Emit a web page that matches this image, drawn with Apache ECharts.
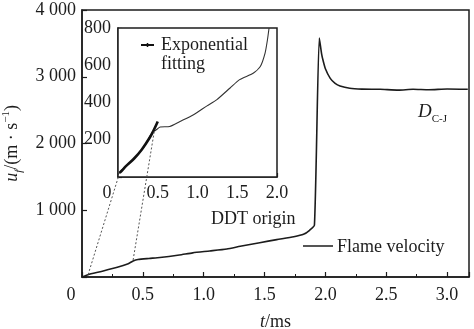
<!DOCTYPE html>
<html>
<head>
<meta charset="utf-8">
<script src="https://cdn.jsdelivr.net/npm/echarts@6/dist/echarts.min.js"></script>
<style>
  html, body { margin: 0; padding: 0; background: #fff; }
  #chart { width: 474px; height: 329px; }
</style>
</head>
<body>
<div id="chart"></div>
<script>
// Flame velocity during deflagration-to-detonation transition (t in ms, u in m/s)
const flameT = [0, 0.05, 0.15, 0.29, 0.38, 0.42, 0.46, 0.55, 0.64, 0.8, 0.91, 1.05, 1.19, 1.3, 1.46, 1.6, 1.74, 1.82, 1.87, 1.91,
                1.95, 1.97, 1.98, 2.0, 2.04, 2.08, 2.12, 2.2, 2.3, 2.45, 2.6, 2.72, 2.85, 3.0, 3.17];
const flameU = [0, 35, 80, 145, 200, 240, 262, 278, 292, 330, 362, 390, 420, 460, 514, 560, 604, 640, 700, 780,
                3580, 3330, 3250, 3120, 2976, 2900, 2861, 2827, 2815, 2812, 2800, 2812, 2805, 2817, 2812];

// Early-stage detail (inset)
const detailT = [0, 0.05, 0.19, 0.32, 0.4, 0.44, 0.47, 0.53, 0.65, 0.78, 0.95, 1.12, 1.24, 1.41, 1.53, 1.7, 1.79, 1.85, 1.88, 1.9];
const detailU = [12, 39, 93, 158, 218, 245, 250, 268, 271, 298, 334, 382, 414, 478, 523, 557, 593, 665, 737, 800];

// Exponential fit of the early acceleration
const fitT = [0.02, 0.05, 0.1, 0.2, 0.3, 0.4, 0.45, 0.5];
const fitU = [22, 35, 58, 98, 148, 212, 252, 298];

// Dotted guide lines: [point on main curve, point on inset curve]
const guideMain = [[0.05, 35], [0.42, 255]];
const guideInset = [[0.01, 8], [0.46, 255]];

const mainTicksX = [0, 0.5, 1.0, 1.5, 2.0, 2.5, 3.0];
const FONT = 'Liberation Serif';
const INK = '#1c1c1c';

const pair = (xs, ys) => xs.map((x, i) => [x, ys[i]]);
const thousands = v => String(v).replace(/\B(?=(\d{3})+(?!\d))/g, ' ');

const labelBase = { fontFamily: FONT, fontSize: 18, color: INK };
const zeroStyle = pad => ({ o: { fontFamily: FONT, fontSize: 18, color: INK, padding: [0, pad, 0, 0] } });

const chart = echarts.init(document.getElementById('chart'), null, { renderer: 'canvas' });

chart.setOption({
  animation: false,
  backgroundColor: '#fff',
  grid: [
    { left: 82, top: 10, width: 387, height: 267, outerBoundsMode: 'none', containLabel: false,
      show: true, borderColor: INK, borderWidth: 1.5, backgroundColor: '#fff' },
    { left: 118, top: 28, width: 159, height: 149, outerBoundsMode: 'none', containLabel: false,
      show: true, borderColor: INK, borderWidth: 1.5, backgroundColor: '#fff', z: 3 }
  ],
  xAxis: [
    {
      gridIndex: 0, type: 'value', min: 0, max: 3.18, interval: 0.5,
      axisLine: { lineStyle: { color: INK, width: 1.5 } },
      axisTick: { inside: true, length: 5, lineStyle: { color: INK, width: 1.2 } },
      minorTick: { show: true, splitNumber: 2, length: 3, lineStyle: { color: INK, width: 1 } },
      splitLine: { show: false },
      axisLabel: Object.assign({}, labelBase, {
        margin: 9,
        rich: zeroStyle(22),
        formatter: v => {
          if (v === 0) return '{o|0}';
          return mainTicksX.some(t => Math.abs(t - v) < 1e-6) ? v.toFixed(1) : '';
        }
      }),
      name: '{i|t}{n|/ms}',
      nameLocation: 'middle', nameGap: 36,
      nameTextStyle: {
        rich: {
          i: { fontFamily: FONT, fontSize: 18, fontStyle: 'italic', color: INK },
          n: { fontFamily: FONT, fontSize: 18, color: INK }
        }
      }
    },
    {
      gridIndex: 1, type: 'value', min: 0, max: 2, interval: 0.5,
      axisLine: { lineStyle: { color: INK, width: 1.5 } },
      axisTick: { inside: true, length: 4, lineStyle: { color: INK, width: 1.2 } },
      splitLine: { show: false },
      axisLabel: Object.assign({}, labelBase, {
        margin: 7,
        rich: zeroStyle(22),
        formatter: v => v === 0 ? '{o|0}' : v.toFixed(1)
      })
    }
  ],
  yAxis: [
    {
      gridIndex: 0, type: 'value', min: 0, max: 4000, interval: 1000,
      axisLine: { lineStyle: { color: INK, width: 1.5 } },
      axisTick: { inside: true, length: 5, lineStyle: { color: INK, width: 1.2 } },
      splitLine: { show: false },
      axisLabel: Object.assign({}, labelBase, {
        margin: 6,
        formatter: v => v === 0 ? '' : thousands(v)
      }),
      name: '{i|u}{sub|f}{n|/(m · s}{sup|−1}{n|)}',
      nameLocation: 'middle', nameGap: 56, nameRotate: 90,
      nameTextStyle: {
        rich: {
          i: { fontFamily: FONT, fontSize: 18, fontStyle: 'italic', color: INK, lineHeight: 24 },
          sub: { fontFamily: FONT, fontSize: 11, fontStyle: 'italic', color: INK, verticalAlign: 'bottom', lineHeight: 24 },
          sup: { fontFamily: FONT, fontSize: 11, color: INK, verticalAlign: 'top', lineHeight: 24 },
          n: { fontFamily: FONT, fontSize: 18, color: INK, lineHeight: 24 }
        }
      }
    },
    {
      gridIndex: 1, type: 'value', min: 0, max: 800, interval: 200,
      axisLine: { lineStyle: { color: INK, width: 1.5 } },
      axisTick: { inside: true, length: 4, lineStyle: { color: INK, width: 1.2 } },
      splitLine: { show: false },
      axisLabel: Object.assign({}, labelBase, {
        margin: 7,
        formatter: v => v === 0 ? '' : String(v)
      })
    }
  ],
  series: [
    {
      name: 'Flame velocity', type: 'line', xAxisIndex: 0, yAxisIndex: 0,
      data: pair(flameT, flameU), showSymbol: false, smooth: 0.2,
      lineStyle: { color: INK, width: 1.6 }, z: 2
    },
    {
      name: 'Flame velocity (detail)', type: 'line', xAxisIndex: 1, yAxisIndex: 1,
      data: pair(detailT, detailU), showSymbol: false, smooth: 0.2,
      lineStyle: { color: '#333', width: 1.1 }, z: 4
    },
    {
      name: 'Exponential fitting', type: 'line', xAxisIndex: 1, yAxisIndex: 1,
      data: pair(fitT, fitU), showSymbol: false, smooth: 0.3,
      lineStyle: { color: '#111', width: 2.6 }, z: 5
    }
  ]
});

// Dotted guides from the main curve to the inset, placed through the axes' scales
const guides = guideMain.map((m, i) => {
  const a = chart.convertToPixel({ gridIndex: 0 }, m);
  const b = chart.convertToPixel({ gridIndex: 1 }, guideInset[i]);
  return {
    type: 'line', z: 20,
    shape: { x1: a[0], y1: a[1], x2: b[0], y2: b[1] },
    style: { stroke: '#555', lineWidth: 1, lineDash: [2, 2] }
  };
});

const textStyle = (text, x, y, extra) => ({
  type: 'text', x: x, y: y, z: 30,
  style: Object.assign({ text: text, fontFamily: FONT, fontSize: 18, fill: INK, verticalAlign: 'middle', align: 'left' }, extra || {})
});

chart.setOption({
  graphic: guides.concat([
    // inset legend
    { type: 'line', z: 30, shape: { x1: 141, y1: 45, x2: 154, y2: 45 }, style: { stroke: '#111', lineWidth: 2 } },
    { type: 'line', z: 30, shape: { x1: 147.5, y1: 43, x2: 147.5, y2: 47 }, style: { stroke: '#111', lineWidth: 1.5 } },
    textStyle('Exponential', 161, 45),
    textStyle('fitting', 161, 64),
    // annotations on the main plot
    textStyle('DDT origin', 211, 219),
    { type: 'line', z: 30, shape: { x1: 303, y1: 246, x2: 333, y2: 246 }, style: { stroke: INK, lineWidth: 1.5 } },
    textStyle('Flame velocity', 337, 247),
    {
      type: 'text', x: 418, y: 112, z: 30,
      style: {
        text: '{d|D}{s|C-J}', verticalAlign: 'middle', align: 'left',
        rich: {
          d: { fontFamily: FONT, fontSize: 19, fontStyle: 'italic', fill: INK, lineHeight: 26 },
          s: { fontFamily: FONT, fontSize: 11, fill: INK, verticalAlign: 'bottom', lineHeight: 26 }
        }
      }
    }
  ])
});
</script>
</body>
</html>
